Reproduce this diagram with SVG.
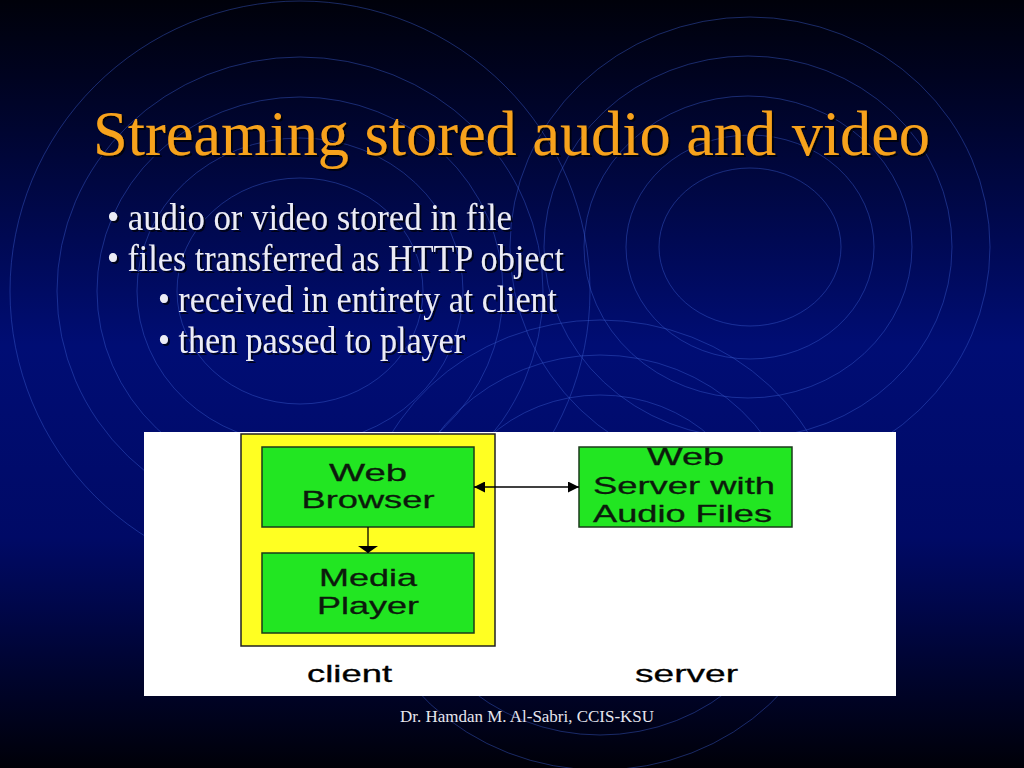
<svg xmlns="http://www.w3.org/2000/svg" width="1024" height="768" viewBox="0 0 1024 768">
  <defs>
    <linearGradient id="bg" x1="0" y1="0" x2="0" y2="1">
      <stop offset="0" stop-color="#00010a"/>
      <stop offset="0.1" stop-color="#000320"/>
      <stop offset="0.45" stop-color="#000d74"/>
      <stop offset="0.7" stop-color="#000a66"/>
      <stop offset="1" stop-color="#000008"/>
    </linearGradient>
    <filter id="shadow" x="-5%" y="-20%" width="110%" height="140%">
      <feDropShadow dx="2" dy="2" stdDeviation="0.6" flood-color="#000000" flood-opacity="0.7"/>
    </filter>
    <marker id="head" viewBox="0 0 11 11" markerUnits="userSpaceOnUse" markerWidth="11" markerHeight="11" refX="11" refY="5.5" orient="auto-start-reverse">
      <path d="M0,0 L11,5.5 L0,11 z" fill="#000"/>
    </marker>
    <marker id="headwide" viewBox="0 0 7 20" markerUnits="userSpaceOnUse" markerWidth="7" markerHeight="20" refX="7" refY="10" orient="auto">
      <path d="M0,0 L7,10 L0,20 z" fill="#000"/>
    </marker>
    <style>
      .ring { fill: none; stroke: #3a5ccc; stroke-opacity: 0.45; stroke-width: 1; }
      .title { font-family: "Liberation Serif", "Times New Roman", serif; font-size: 63px; fill: #f7a21b; }
      .bullet { font-family: "Liberation Serif", "Times New Roman", serif; font-size: 37px; fill: #ececf6; }
      .footer { font-family: "Liberation Serif", "Times New Roman", serif; font-size: 16.5px; fill: #e6e6ee; }
      .box { fill: #22e622; stroke: #1b3a1b; stroke-width: 1.5; }
      .client { fill: #ffff22; stroke: #222; stroke-width: 1.5; }
      .lbl { font-family: "Liberation Sans", Arial, sans-serif; font-size: 24px; fill: #0c1a0c; text-anchor: middle; stroke: #0c1a0c; stroke-width: 0.3; }
      .cap { font-family: "Liberation Sans", Arial, sans-serif; font-size: 24px; fill: #000; text-anchor: middle; stroke: #000; stroke-width: 0.3; }
      .conn { stroke: #000; stroke-width: 1.3; fill: none; }
    </style>
  </defs>

  <rect x="0" y="0" width="1024" height="768" fill="url(#bg)"/>

  <g id="background-rings">
    <ellipse class="ring" cx="750" cy="247" rx="91" ry="79"/>
    <ellipse class="ring" cx="750" cy="247" rx="124" ry="112"/>
    <ellipse class="ring" cx="748" cy="247" rx="164" ry="151"/>
    <ellipse class="ring" cx="748" cy="247" rx="204" ry="191"/>
    <ellipse class="ring" cx="750" cy="247" rx="240" ry="230"/>
    <ellipse class="ring" cx="300" cy="291" rx="123" ry="113"/>
    <ellipse class="ring" cx="300" cy="291" rx="163" ry="153"/>
    <ellipse class="ring" cx="300" cy="291" rx="203" ry="194"/>
    <ellipse class="ring" cx="300" cy="291" rx="243" ry="234"/>
    <ellipse class="ring" cx="300" cy="291" rx="290" ry="290"/>
    <ellipse class="ring" cx="600" cy="545" rx="160" ry="150"/>
    <ellipse class="ring" cx="600" cy="545" rx="200" ry="190"/>
    <ellipse class="ring" cx="600" cy="545" rx="240" ry="225"/>
  </g>

  <g id="title" filter="url(#shadow)">
    <text class="title" x="93" y="155" textLength="837" lengthAdjust="spacingAndGlyphs">Streaming stored audio and video</text>
  </g>

  <g id="bullets" filter="url(#shadow)">
    <text class="bullet" x="107" y="230" textLength="405" lengthAdjust="spacingAndGlyphs">• audio or video stored in file</text>
    <text class="bullet" x="107" y="271" textLength="457" lengthAdjust="spacingAndGlyphs">• files transferred as HTTP object</text>
    <text class="bullet" x="158" y="312" textLength="399" lengthAdjust="spacingAndGlyphs">• received in entirety at client</text>
    <text class="bullet" x="158" y="353" textLength="307" lengthAdjust="spacingAndGlyphs">• then passed to player</text>
  </g>

  <g id="diagram-panel">
    <rect x="144" y="432" width="752" height="264" fill="#ffffff"/>
  </g>

  <g id="client-area">
    <rect class="client" x="241" y="434" width="254" height="212"/>
  </g>

  <g id="web-browser">
    <rect class="box" x="262" y="447" width="212" height="80"/>
    <text class="lbl" x="368" y="481" textLength="78" lengthAdjust="spacingAndGlyphs">Web</text>
    <text class="lbl" x="368" y="508" textLength="133" lengthAdjust="spacingAndGlyphs">Browser</text>
  </g>

  <g id="media-player">
    <rect class="box" x="262" y="553" width="212" height="80"/>
    <text class="lbl" x="368" y="586" textLength="98" lengthAdjust="spacingAndGlyphs">Media</text>
    <text class="lbl" x="368" y="614" textLength="102" lengthAdjust="spacingAndGlyphs">Player</text>
  </g>

  <g id="web-server">
    <rect class="box" x="579" y="447" width="213" height="80"/>
    <text class="lbl" x="685.5" y="465" textLength="77" lengthAdjust="spacingAndGlyphs">Web</text>
    <text class="lbl" x="684" y="494" textLength="182" lengthAdjust="spacingAndGlyphs">Server with</text>
    <text class="lbl" x="682.5" y="522" textLength="179" lengthAdjust="spacingAndGlyphs">Audio Files</text>
  </g>

  <g id="connectors">
    <line class="conn" x1="474" y1="487" x2="579" y2="487" marker-start="url(#head)" marker-end="url(#head)"/>
    <line class="conn" x1="368" y1="527" x2="368" y2="553" marker-end="url(#headwide)"/>
  </g>

  <g id="labels">
    <text class="cap" x="349.5" y="682" textLength="85" lengthAdjust="spacingAndGlyphs">client</text>
    <text class="cap" x="686.5" y="682" textLength="103" lengthAdjust="spacingAndGlyphs">server</text>
  </g>

  <g id="footer">
    <text class="footer" x="400" y="722" textLength="254" lengthAdjust="spacingAndGlyphs">Dr. Hamdan M. Al-Sabri, CCIS-KSU</text>
  </g>
</svg>
